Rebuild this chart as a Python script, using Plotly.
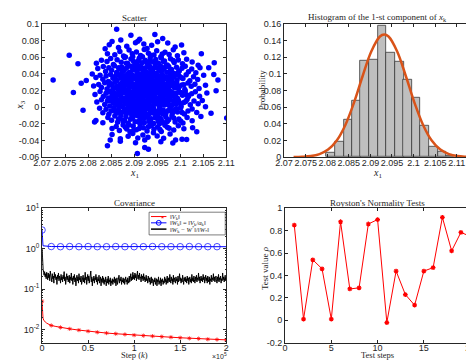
import plotly.graph_objects as go

# ---------------- data ----------------
scatter_points = [
(2.0862,0.0934),
(2.0893,0.0861),(2.0945,0.0869),(2.0962,0.0822),(2.0912,0.0812),(2.0871,0.0805),
(2.0846,0.0749),(2.0852,0.0788),(2.0884,0.0731),(2.0903,0.0772),(2.0921,0.0758),(2.0938,0.0741),(2.0951,0.0785),(2.0973,0.0768),(2.0989,0.0722),(2.0866,0.0716),(2.0928,0.0703),(2.1003,0.0745),(2.0908,0.0791),
(2.0759,0.0622),(2.0837,0.0699),(2.0842,0.0641),(2.0858,0.0628),(2.0869,0.0667),(2.0877,0.0612),(2.0889,0.0684),(2.0896,0.0639),(2.0905,0.0661),(2.0914,0.0618),(2.0922,0.0692),(2.0931,0.0647),(2.0943,0.0626),(2.0949,0.0675),(2.0958,0.0603),(2.0967,0.0658),(2.0976,0.0631),(2.0985,0.0689),(2.0994,0.0617),(2.1008,0.0652),(2.1046,0.0641),(2.0918,0.0605),(2.0881,0.0602),
(2.0778,0.0521),(2.0818,0.0525),(2.0829,0.0561),(2.0841,0.0547),(2.0849,0.0583),(2.0855,0.0512),(2.0863,0.0568),(2.0872,0.0539),(2.0879,0.0594),(2.0886,0.0522),(2.0893,0.0577),(2.0899,0.0548),(2.0906,0.0509),(2.0911,0.0586),(2.0917,0.0533),(2.0924,0.0561),(2.0929,0.0515),(2.0935,0.0592),(2.0941,0.0544),(2.0947,0.0571),(2.0953,0.0527),(2.0959,0.0588),(2.0966,0.0553),(2.0972,0.0506),(2.0979,0.0579),(2.0987,0.0536),(2.0996,0.0564),(2.1005,0.0519),(2.1014,0.0574),(2.1026,0.0541),(2.1039,0.0503),(2.1074,0.0533),(2.0903,0.0531),(2.0933,0.0548),
(2.0821,0.0463),(2.0833,0.0488),(2.0838,0.0427),(2.0845,0.0472),(2.0851,0.0441),(2.0857,0.0496),(2.0862,0.0415),(2.0868,0.0458),(2.0873,0.0482),(2.0877,0.0433),(2.0883,0.0467),(2.0888,0.0409),(2.0892,0.0491),(2.0897,0.0446),(2.0901,0.0474),(2.0906,0.0421),(2.0910,0.0458),(2.0914,0.0493),(2.0919,0.0437),(2.0923,0.0469),(2.0927,0.0412),(2.0931,0.0484),(2.0936,0.0449),(2.0940,0.0427),(2.0944,0.0476),(2.0948,0.0404),(2.0952,0.0462),(2.0957,0.0495),(2.0961,0.0438),(2.0966,0.0471),(2.0971,0.0419),(2.0975,0.0486),(2.0981,0.0452),(2.0986,0.0407),(2.0992,0.0479),(2.0998,0.0434),(2.1004,0.0466),(2.1011,0.0491),(2.1018,0.0425),(2.1025,0.0458),(2.1034,0.0413),(2.1043,0.0472),(2.1062,0.0471),(2.0918,0.0401),(2.0955,0.0443),(2.0899,0.0488),
(2.0724,0.0324),(2.0796,0.0320),(2.0809,0.0398),(2.0817,0.0356),(2.0826,0.0381),(2.0832,0.0335),(2.0839,0.0372),(2.0844,0.0308),(2.0849,0.0391),(2.0854,0.0347),(2.0858,0.0364),(2.0863,0.0319),(2.0867,0.0386),(2.0871,0.0352),(2.0875,0.0304),(2.0879,0.0377),(2.0882,0.0339),(2.0886,0.0395),(2.0889,0.0361),(2.0893,0.0316),(2.0896,0.0383),(2.0899,0.0345),(2.0903,0.0372),(2.0906,0.0327),(2.0909,0.0398),(2.0912,0.0355),(2.0915,0.0311),(2.0919,0.0379),(2.0922,0.0342),(2.0925,0.0366),(2.0928,0.0302),(2.0932,0.0388),(2.0935,0.0333),(2.0938,0.0359),(2.0942,0.0314),(2.0945,0.0392),(2.0949,0.0348),(2.0953,0.0371),(2.0957,0.0325),(2.0961,0.0384),(2.0965,0.0337),(2.0969,0.0362),(2.0974,0.0309),(2.0978,0.0393),(2.0983,0.0351),(2.0988,0.0376),(2.0993,0.0321),(2.0999,0.0368),(2.1006,0.0343),(2.1013,0.0389),(2.1021,0.0317),(2.1029,0.0364),(2.1038,0.0331),(2.1051,0.0382),(2.1073,0.0390),(2.1082,0.0324),(2.0947,0.0306),
(2.0785,0.0286),(2.0812,0.0254),(2.0823,0.0271),(2.0829,0.0236),(2.0836,0.0292),(2.0841,0.0218),(2.0846,0.0263),(2.0850,0.0281),(2.0855,0.0229),(2.0859,0.0297),(2.0863,0.0248),(2.0866,0.0212),(2.0870,0.0275),(2.0873,0.0238),(2.0877,0.0289),(2.0880,0.0256),(2.0883,0.0203),(2.0887,0.0268),(2.0890,0.0231),(2.0893,0.0294),(2.0896,0.0245),(2.0899,0.0278),(2.0902,0.0215),(2.0905,0.0262),(2.0908,0.0287),(2.0911,0.0226),(2.0914,0.0253),(2.0917,0.0299),(2.0920,0.0241),(2.0923,0.0272),(2.0926,0.0208),(2.0929,0.0265),(2.0932,0.0234),(2.0935,0.0283),(2.0938,0.0251),(2.0941,0.0219),(2.0944,0.0276),(2.0947,0.0243),(2.0950,0.0291),(2.0953,0.0227),(2.0956,0.0259),(2.0960,0.0205),(2.0963,0.0284),(2.0967,0.0247),(2.0971,0.0271),(2.0975,0.0222),(2.0979,0.0295),(2.0983,0.0257),(2.0988,0.0233),(2.0993,0.0279),(2.0998,0.0244),(2.1004,0.0266),(2.1010,0.0211),(2.1017,0.0288),(2.1024,0.0249),(2.1032,0.0273),(2.1041,0.0224),(2.1055,0.0261),(2.0919,0.0213),(2.0901,0.0236),(2.0958,0.0292),(2.0934,0.0202),
(2.0768,0.0174),(2.0815,0.0152),(2.0826,0.0186),(2.0833,0.0128),(2.0839,0.0167),(2.0844,0.0109),(2.0848,0.0193),(2.0852,0.0141),(2.0856,0.0176),(2.0860,0.0118),(2.0864,0.0159),(2.0868,0.0198),(2.0871,0.0135),(2.0875,0.0172),(2.0878,0.0104),(2.0881,0.0188),(2.0885,0.0147),(2.0888,0.0126),(2.0891,0.0181),(2.0894,0.0155),(2.0897,0.0113),(2.0900,0.0195),(2.0903,0.0138),(2.0906,0.0169),(2.0909,0.0121),(2.0912,0.0184),(2.0915,0.0146),(2.0918,0.0107),(2.0921,0.0173),(2.0924,0.0132),(2.0927,0.0191),(2.0930,0.0158),(2.0933,0.0115),(2.0936,0.0178),(2.0939,0.0143),(2.0942,0.0196),(2.0945,0.0124),(2.0948,0.0165),(2.0951,0.0101),(2.0954,0.0186),(2.0957,0.0137),(2.0960,0.0162),(2.0963,0.0119),(2.0966,0.0189),(2.0970,0.0149),(2.0973,0.0171),(2.0977,0.0112),(2.0981,0.0183),(2.0985,0.0134),(2.0989,0.0166),(2.0994,0.0106),(2.0999,0.0179),(2.1005,0.0142),(2.1011,0.0194),(2.1018,0.0127),(2.1025,0.0161),(2.1033,0.0185),(2.1042,0.0131),(2.1058,0.0168),(2.1078,0.0197),(2.0913,0.0161),(2.0941,0.0104),(2.0887,0.0199),(2.0962,0.0145),
(2.0819,0.0062),(2.0829,0.0088),(2.0836,0.0031),(2.0842,0.0074),(2.0847,0.0012),(2.0851,0.0096),(2.0855,0.0047),(2.0859,0.0068),(2.0863,0.0023),(2.0867,0.0085),(2.0870,0.0054),(2.0874,0.0008),(2.0877,0.0071),(2.0881,0.0039),(2.0884,0.0093),(2.0887,0.0016),(2.0890,0.0061),(2.0893,0.0082),(2.0896,0.0035),(2.0899,0.0005),(2.0902,0.0077),(2.0905,0.0049),(2.0908,0.0098),(2.0911,0.0021),(2.0914,0.0065),(2.0917,0.0043),(2.0920,0.0089),(2.0923,0.0011),(2.0926,0.0057),(2.0929,0.0079),(2.0932,0.0029),(2.0935,0.0066),(2.0938,0.0094),(2.0941,0.0014),(2.0944,0.0052),(2.0947,0.0083),(2.0950,0.0037),(2.0953,0.0072),(2.0956,0.0003),(2.0959,0.0058),(2.0962,0.0091),(2.0966,0.0026),(2.0970,0.0069),(2.0974,0.0045),(2.0978,0.0087),(2.0982,0.0018),(2.0986,0.0063),(2.0991,0.0034),(2.0996,0.0081),(2.1002,0.0009),(2.1008,0.0056),(2.1015,0.0092),(2.1022,0.0027),(2.1030,0.0073),(2.1039,0.0041),(2.1055,0.0004),(2.1048,0.0078),(2.0928,0.0033),(2.0905,0.0015),
(2.0789,-0.0039),(2.0825,-0.0015),(2.0832,-0.0068),(2.0839,-0.0027),(2.0845,-0.0085),(2.0850,-0.0046),(2.0856,-0.0012),(2.0861,-0.0073),(2.0866,-0.0034),(2.0871,-0.0095),(2.0875,-0.0058),(2.0879,-0.0021),(2.0883,-0.0081),(2.0887,-0.0042),(2.0891,-0.0007),(2.0895,-0.0066),(2.0899,-0.0029),(2.0903,-0.0089),(2.0907,-0.0051),(2.0911,-0.0014),(2.0915,-0.0077),(2.0919,-0.0038),(2.0923,-0.0062),(2.0927,-0.0019),(2.0931,-0.0092),(2.0935,-0.0047),(2.0939,-0.0071),(2.0943,-0.0025),(2.0947,-0.0086),(2.0951,-0.0053),(2.0955,-0.0009),(2.0959,-0.0069),(2.0963,-0.0036),(2.0968,-0.0094),(2.0973,-0.0044),(2.0978,-0.0017),(2.0983,-0.0075),(2.0988,-0.0031),(2.0994,-0.0059),(2.1001,-0.0011),(2.1009,-0.0083),(2.1017,-0.0048),(2.1026,-0.0024),(2.1036,-0.0065),(2.1067,-0.0073),(2.0917,-0.0097),(2.0941,-0.0004),(2.0896,-0.0049),(2.0962,-0.0082),
(2.0814,-0.0178),(2.0817,-0.0162),(2.0832,-0.0189),(2.0843,-0.0124),(2.0851,-0.0157),(2.0858,-0.0108),(2.0864,-0.0183),(2.0870,-0.0136),(2.0876,-0.0169),(2.0882,-0.0115),(2.0887,-0.0194),(2.0892,-0.0147),(2.0897,-0.0128),(2.0902,-0.0176),(2.0907,-0.0103),(2.0912,-0.0159),(2.0917,-0.0132),(2.0922,-0.0187),(2.0927,-0.0118),(2.0932,-0.0164),(2.0937,-0.0141),(2.0942,-0.0196),(2.0947,-0.0112),(2.0952,-0.0171),(2.0957,-0.0138),(2.0963,-0.0185),(2.0969,-0.0121),(2.0975,-0.0153),(2.0982,-0.0106),(2.0989,-0.0179),(2.0997,-0.0144),(2.1006,-0.0191),(2.1015,-0.0126),(2.1026,-0.0163),(2.1101,-0.0131),(2.1045,-0.0112),(2.0924,-0.0101),(2.0955,-0.0199),
(2.0852,-0.0257),(2.0861,-0.0232),(2.0868,-0.0281),(2.0876,-0.0214),(2.0884,-0.0263),(2.0891,-0.0295),(2.0898,-0.0228),(2.0905,-0.0271),(2.0913,-0.0206),(2.0920,-0.0248),(2.0928,-0.0287),(2.0935,-0.0223),(2.0943,-0.0266),(2.0951,-0.0239),(2.0959,-0.0292),(2.0967,-0.0217),(2.0976,-0.0254),(2.0986,-0.0276),(2.0996,-0.0225),(2.1008,-0.0261),(2.1027,-0.0247),(2.1036,-0.0297),(2.0939,-0.0208),(2.0881,-0.0242),
(2.0852,-0.0328),(2.0887,-0.0351),(2.0870,-0.0381),(2.0897,-0.0316),(2.0908,-0.0372),(2.0919,-0.0334),(2.0930,-0.0362),(2.0950,-0.0347),(2.0964,-0.0375),(2.0978,-0.0323),(2.0990,-0.0394),(2.1004,-0.0386),(2.1014,-0.0390),(2.0942,-0.0308),(2.0923,-0.0396),(2.0848,-0.0394),
(2.0842,-0.0463),(2.0870,-0.0409),(2.0923,-0.0486),(2.0903,-0.0428),(2.0958,-0.0417),(2.0984,-0.0432),
(2.0907,-0.0556),(2.0931,-0.0506),
# denser core of the cloud
(2.0874,0.0437),(2.0891,0.0419),(2.0907,0.0452),(2.0925,0.0431),(2.0941,0.0458),(2.0958,0.0426),(2.0979,0.0447),(2.0996,0.0418),(2.0866,0.0472),(2.0933,0.0497),(2.0969,0.0489),(2.0912,0.0475),
(2.0861,0.0378),(2.0878,0.0357),(2.0894,0.0389),(2.0904,0.0341),(2.0917,0.0367),(2.0929,0.0349),(2.0941,0.0381),(2.0952,0.0336),(2.0963,0.0373),(2.0976,0.0346),(2.0991,0.0387),(2.1003,0.0353),(2.0885,0.0322),(2.0921,0.0328),(2.0955,0.0315),(2.0982,0.0331),(2.0872,0.0395),(2.0937,0.0397),
(2.0852,0.0273),(2.0868,0.0251),(2.0881,0.0284),(2.0894,0.0262),(2.0903,0.0226),(2.0913,0.0279),(2.0922,0.0254),(2.0931,0.0288),(2.0939,0.0237),(2.0948,0.0267),(2.0957,0.0241),(2.0965,0.0276),(2.0974,0.0258),(2.0985,0.0285),(2.0996,0.0221),(2.1008,0.0269),(2.0876,0.0218),(2.0911,0.0207),(2.0944,0.0212),(2.0968,0.0228),(2.0859,0.0232),(2.0926,0.0296),
(2.0845,0.0183),(2.0858,0.0162),(2.0869,0.0143),(2.0879,0.0171),(2.0889,0.0138),(2.0898,0.0166),(2.0907,0.0152),(2.0916,0.0189),(2.0925,0.0147),(2.0934,0.0169),(2.0943,0.0131),(2.0952,0.0178),(2.0961,0.0154),(2.0971,0.0187),(2.0979,0.0126),(2.0991,0.0159),(2.1002,0.0173),(2.1014,0.0149),(2.0883,0.0111),(2.0919,0.0117),(2.0947,0.0109),(2.0973,0.0103),(2.0904,0.0194),(2.0937,0.0192),
(2.0849,0.0075),(2.0861,0.0044),(2.0872,0.0081),(2.0882,0.0058),(2.0892,0.0027),(2.0901,0.0064),(2.0910,0.0086),(2.0919,0.0052),(2.0927,0.0019),(2.0936,0.0075),(2.0945,0.0041),(2.0954,0.0088),(2.0964,0.0061),(2.0975,0.0024),(2.0987,0.0079),(2.0999,0.0049),(2.1012,0.0068),(2.0868,0.0013),(2.0913,0.0007),(2.0958,0.0031),
(2.0858,-0.0042),(2.0869,-0.0063),(2.0881,-0.0031),(2.0893,-0.0078),(2.0904,-0.0022),(2.0913,-0.0056),(2.0925,-0.0083),(2.0934,-0.0028),(2.0945,-0.0061),(2.0957,-0.0039),(2.0969,-0.0072),(2.0981,-0.0048),(2.0992,-0.0019),(2.1004,-0.0066),(2.0921,-0.0005),(2.0897,-0.0095),(2.0951,-0.0091),
(2.0866,-0.0142),(2.0879,-0.0161),(2.0895,-0.0118),(2.0909,-0.0173),(2.0921,-0.0137),(2.0934,-0.0185),(2.0946,-0.0129),(2.0959,-0.0157),(2.0972,-0.0174),(2.0986,-0.0131),(2.1001,-0.0166),(2.0915,-0.0109),
(2.0889,-0.0214),(2.0911,-0.0257),(2.0931,-0.0236),(2.0956,-0.0268),(2.0972,-0.0242),(2.0899,-0.0278),
(2.0883,0.0527),(2.0909,0.0552),(2.0927,0.0537),(2.0946,0.0512),(2.0964,0.0546),(2.0985,0.0559),(2.0897,0.0605),(2.0936,0.0621),(2.0961,0.0637),
]
scatter_x = [p[0] for p in scatter_points]
scatter_y = [p[1] for p in scatter_points]

hist_centers = [2.0808, 2.0828, 2.0848, 2.0868, 2.0887, 2.0907, 2.0927, 2.0947,
                2.0967, 2.0986, 2.1006, 2.1026, 2.1046, 2.1066, 2.1085]
hist_probs = [0.005, 0.019, 0.045, 0.068, 0.116, 0.117, 0.158, 0.125,
              0.114, 0.093, 0.071, 0.038, 0.013, 0.007, 0.002]
hist_width = 0.00198

fit_x = [2.0722, 2.0742, 2.0762, 2.0782, 2.0802, 2.0822, 2.0842, 2.0862, 2.0882, 2.0902,
         2.0922, 2.0932, 2.0942, 2.0962, 2.0982, 2.1002, 2.1022, 2.1042, 2.1062, 2.1082,
         2.1102, 2.1122, 2.1132]
fit_y = [0.0001, 0.0004, 0.0012, 0.0036, 0.0090, 0.0199, 0.0386, 0.0654, 0.0973, 0.1267,
         0.1446, 0.1470, 0.1446, 0.1267, 0.0973, 0.0654, 0.0386, 0.0199, 0.0090, 0.0036,
         0.0012, 0.0004, 0.0002]

red_k = [0, 100, 300, 600, 1000, 2000, 3500, 5000, 7500, 10000, 15000, 20000,
         30000, 40000, 50000, 60000, 70000, 80000, 90000, 100000, 110000, 120000,
         130000, 140000, 150000, 160000, 170000, 180000, 190000, 200000]
red_vals = [0.05, 0.033, 0.025, 0.021, 0.019, 0.0165, 0.0152, 0.0143, 0.0133, 0.0125, 0.0118, 0.0112,
            0.0103, 0.0096, 0.0090, 0.0085, 0.0081, 0.0078, 0.0075, 0.0072, 0.0070, 0.0068,
            0.0066, 0.0064, 0.0062, 0.0060, 0.0059, 0.0057, 0.0056, 0.0055]

blue_k = [0, 500, 1000, 10000, 20000, 30000, 40000, 50000, 60000, 70000, 80000, 90000, 100000,
          110000, 120000, 130000, 140000, 150000, 160000, 170000, 180000, 190000, 200000]
blue_vals = [2.9, 1.35, 1.18, 1.13, 1.12, 1.13, 1.12, 1.13, 1.12, 1.12, 1.13, 1.12, 1.12,
             1.12, 1.13, 1.12, 1.12, 1.12, 1.13, 1.12, 1.12, 1.12, 1.12]

black_vals = [
1.05, 0.42, 0.31, 0.26, 0.22, 0.27, 0.2, 0.24, 0.18, 0.26, 0.21, 0.17, 0.25, 0.19, 0.23, 0.16, 0.28, 0.2, 0.22, 0.15,
0.24, 0.18, 0.21, 0.14, 0.26, 0.19, 0.23, 0.17, 0.2, 0.13, 0.22, 0.18, 0.25, 0.16, 0.21, 0.19, 0.14, 0.23, 0.17, 0.2,
0.15, 0.22, 0.18, 0.27, 0.16, 0.2, 0.13, 0.19, 0.24, 0.17, 0.21, 0.15, 0.18, 0.22, 0.14, 0.2, 0.17, 0.25, 0.16, 0.19,
0.13, 0.21, 0.17, 0.23, 0.15, 0.19, 0.12, 0.18, 0.22, 0.16, 0.2, 0.14, 0.24, 0.17, 0.19, 0.15, 0.21, 0.13, 0.18, 0.16,
0.22, 0.15, 0.19, 0.14, 0.26, 0.17, 0.2, 0.13, 0.18, 0.23, 0.16, 0.21, 0.14, 0.19, 0.17, 0.28, 0.15, 0.2, 0.12, 0.18,
0.16, 0.21, 0.14, 0.19, 0.17, 0.23, 0.15, 0.2, 0.13, 0.18, 0.16, 0.22, 0.14, 0.17, 0.2, 0.12, 0.18, 0.15, 0.21, 0.14,
0.19, 0.13, 0.17, 0.15, 0.2, 0.12, 0.16, 0.18, 0.14, 0.21, 0.13, 0.17, 0.15, 0.19, 0.12, 0.16, 0.14, 0.18, 0.13, 0.17,
0.15, 0.2, 0.14, 0.18, 0.12, 0.16, 0.19, 0.13, 0.17, 0.15, 0.22, 0.14, 0.18, 0.16, 0.2, 0.13, 0.17, 0.15, 0.19, 0.14,
0.18, 0.13, 0.16, 0.2, 0.15, 0.17, 0.13, 0.19, 0.16, 0.14, 0.21, 0.15, 0.18, 0.24, 0.16, 0.2, 0.17, 0.26, 0.18, 0.22,
0.17, 0.25, 0.19, 0.23, 0.16, 0.21, 0.28, 0.18, 0.22, 0.17, 0.25, 0.19, 0.2, 0.15, 0.23, 0.18, 0.21, 0.16, 0.24, 0.17,
0.2, 0.15, 0.19, 0.22, 0.16, 0.18, 0.14, 0.21, 0.17, 0.15, 0.19, 0.13, 0.17, 0.2, 0.14, 0.18, 0.16, 0.12, 0.17, 0.15,
0.19, 0.13, 0.16, 0.18, 0.12, 0.17, 0.15, 0.2, 0.13, 0.16, 0.14, 0.19, 0.12, 0.17, 0.15, 0.18, 0.13, 0.16, 0.14, 0.2,
0.15, 0.18, 0.13, 0.17, 0.21, 0.14, 0.16, 0.19, 0.15, 0.23, 0.17, 0.14, 0.2, 0.16, 0.18, 0.13, 0.22, 0.15, 0.19, 0.17,
0.14, 0.2, 0.16, 0.18, 0.13, 0.21, 0.15, 0.17, 0.24, 0.16, 0.19, 0.14, 0.18, 0.15, 0.22, 0.17, 0.13, 0.19, 0.16, 0.2,
0.15, 0.18, 0.14, 0.21, 0.16, 0.19, 0.13, 0.17, 0.2, 0.15, 0.18, 0.14, 0.23, 0.16, 0.19, 0.15, 0.21, 0.17, 0.14, 0.2,
0.16, 0.22, 0.15, 0.19, 0.17, 0.25, 0.16, 0.2, 0.14, 0.18, 0.21, 0.16, 0.19, 0.15, 0.23, 0.17, 0.2, 0.14, 0.18, 0.22,
0.16, 0.19, 0.14, 0.21, 0.17, 0.15, 0.2, 0.13, 0.18, 0.16, 0.22, 0.15, 0.19, 0.17, 0.24, 0.16, 0.2, 0.15, 0.18, 0.21,
0.17, 0.14, 0.2, 0.16, 0.23, 0.15, 0.19, 0.17, 0.21, 0.14, 0.18, 0.16, 0.25, 0.17, 0.2, 0.15, 0.19, 0.22, 0.16, 0.18,
]
black_k = [i * 200000 / (len(black_vals) - 1) for i in range(len(black_vals))]

test_steps = list(range(1, 21))
test_values = [0.85, 0.01, 0.54, 0.46, 0.01, 0.88, 0.28, 0.29, 0.86, 0.90,
               -0.02, 0.44, 0.23, 0.135, 0.44, 0.47, 0.92, 0.62, 0.785, 0.75]

# ---------------- layout helpers ----------------
W, H = 474, 360
def fx(x): return x / W
def fy(y): return 1 - y / H

AX = '#262626'
TICKFONT = dict(family='Liberation Sans, Arial, sans-serif', size=9, color=AX)
SERIF = 'Liberation Serif, Times New Roman, serif'

def axstyle(**kw):
    d = dict(showline=True, linecolor=AX, linewidth=0.8, mirror='ticks', ticks='inside',
             ticklen=3, tickcolor=AX, tickwidth=0.8, showgrid=False, zeroline=False,
             tickfont=TICKFONT, tickangle=0)
    d.update(kw)
    return d

fig = go.Figure()

# Scatter
fig.add_trace(go.Scatter(x=scatter_x, y=scatter_y, mode='markers',
                         marker=dict(color='#0000ff', size=5.5, line=dict(width=0)),
                         xaxis='x', yaxis='y', showlegend=False))
# Histogram
fig.add_trace(go.Bar(x=hist_centers, y=hist_probs, width=hist_width,
                     marker=dict(color='#bfbfbf', line=dict(color='#3a3a3a', width=0.8)),
                     xaxis='x2', yaxis='y2', showlegend=False))
fig.add_trace(go.Scatter(x=fit_x, y=fit_y, mode='lines',
                         line=dict(color='#D95319', width=2.5, shape='spline'),
                         xaxis='x2', yaxis='y2', showlegend=False))
# Covariance
fig.add_trace(go.Scatter(x=red_k, y=red_vals, mode='lines+markers',
                         line=dict(color='#ff0000', width=1),
                         marker=dict(symbol='asterisk-open', color='#ff0000',
                                     size=[3.5 if (k % 10000 == 0) else 0 for k in red_k],
                                     line=dict(width=1, color='#ff0000')),
                         xaxis='x3', yaxis='y3', showlegend=False))
fig.add_trace(go.Scatter(x=blue_k, y=blue_vals, mode='lines+markers',
                         line=dict(color='#0000ff', width=1),
                         marker=dict(symbol='circle-open', color='#0000ff',
                                     size=[6.5 if (k % 10000 == 0 and k < 200000) else 0 for k in blue_k],
                                     line=dict(width=1, color='#0000ff')),
                         xaxis='x3', yaxis='y3', showlegend=False))
fig.add_trace(go.Scatter(x=black_k, y=black_vals, mode='lines',
                         line=dict(color='#000000', width=1),
                         xaxis='x3', yaxis='y3', showlegend=False))
# Royston
fig.add_trace(go.Scatter(x=test_steps, y=test_values, mode='lines+markers',
                         line=dict(color='#ff0000', width=1),
                         marker=dict(symbol='asterisk-open', size=4, color='#ff0000',
                                     line=dict(width=1.2, color='#ff0000')),
                         xaxis='x4', yaxis='y4', showlegend=False))

x_ticks = [2.07, 2.075, 2.08, 2.085, 2.09, 2.095, 2.1, 2.105, 2.11]
x_ticktext = ['2.07', '2.075', '2.08', '2.085', '2.09', '2.095', '2.1', '2.105', '2.11']
sc_yticks = [-0.06, -0.04, -0.02, 0, 0.02, 0.04, 0.06, 0.08, 0.1]
sc_ytext = ['-0.06', '-0.04', '-0.02', '0', '0.02', '0.04', '0.06', '0.08', '0.1']
h_yticks = [0, 0.02, 0.04, 0.06, 0.08, 0.1, 0.12, 0.14, 0.16]
h_ytext = ['0', '0.02', '0.04', '0.06', '0.08', '0.1', '0.12', '0.14', '0.16']
minor_log = [m * 10 ** e for e in (-3, -2, -1, 0) for m in range(2, 10)]

XSO = -3  # pull x tick labels closer to the axis

fig.update_layout(
    width=W, height=H, margin=dict(l=0, r=0, t=0, b=0),
    paper_bgcolor='white', plot_bgcolor='white', showlegend=False, bargap=0,
    xaxis=axstyle(domain=[fx(26), fx(217)], range=[2.07, 2.11], tickvals=x_ticks,
                  ticktext=x_ticktext, anchor='y', ticklabelstandoff=XSO),
    yaxis=axstyle(domain=[fy(147), fy(9)], range=[-0.06, 0.1], tickvals=sc_yticks,
                  ticktext=sc_ytext, anchor='x'),
    xaxis2=axstyle(domain=[fx(277), fx(470)], range=[2.07, 2.1131], tickvals=x_ticks,
                   ticktext=x_ticktext, anchor='y2', ticklabelstandoff=XSO),
    yaxis2=axstyle(domain=[fy(147), fy(9)], range=[0, 0.16], tickvals=h_yticks,
                   ticktext=h_ytext, anchor='x2'),
    xaxis3=axstyle(domain=[fx(26), fx(217)], range=[0, 200000],
                   tickvals=[0, 50000, 100000, 150000, 200000],
                   ticktext=['0', '0.5', '1', '1.5', '2'], anchor='y3', ticklabelstandoff=XSO),
    yaxis3=axstyle(domain=[fy(339), fy(200)], type='log', range=[-2.33, 1.0],
                   tickvals=[0.01, 0.1, 1, 10],
                   ticktext=['10<sup>-2</sup>', '10<sup>-1</sup>', '10<sup>0</sup>', '10<sup>1</sup>'],
                   minor=dict(tickmode='array', tickvals=minor_log, ticks='inside',
                              ticklen=1.5, tickcolor=AX, showgrid=False),
                   anchor='x3'),
    xaxis4=axstyle(domain=[fx(278), fx(470)], range=[0, 20], tickvals=[0, 5, 10, 15, 20],
                   anchor='y4', ticklabelstandoff=XSO),
    yaxis4=axstyle(domain=[fy(339), fy(200)], range=[-0.2, 1],
                   tickvals=[-0.2, 0, 0.2, 0.4, 0.6, 0.8, 1],
                   ticktext=['-0.2', '0', '0.2', '0.4', '0.6', '0.8', '1'], anchor='x4'),
)

def label(text, x, y, size=9, angle=0, xanchor='center', family=SERIF):
    fig.add_annotation(text=text, x=fx(x), y=fy(y), xref='paper', yref='paper',
                       showarrow=False, textangle=angle, xanchor=xanchor, yanchor='middle',
                       font=dict(family=family, size=size, color=AX))

# titles
label('Scatter', 121.5, 3, size=9)
label('Histogram of the 1-st component of <i>x</i><sub>k</sub>', 373.5, 3, size=9)
label('Covariance', 121.5, 194, size=9)
label("Royston's Normality Tests", 374, 194, size=9)
# axis labels
label('<i>x</i><sub>1</sub>', 121.5, 164, size=10)
label('<i>x</i><sub>1</sub>', 373.5, 164, size=10)
label('<i>x</i><sub>3</sub>', 4, 93, size=10, angle=-90)
label('Probability', 255, 78, size=9, angle=-90)
label('Step (<i>k</i>)', 121.5, 352, size=8.5)
label('Test steps', 374, 352, size=8.5)
label('Test value <i>ρ</i>', 257, 262, size=9, angle=-90)
label('×10<sup>5</sup>', 220, 353, size=7, xanchor='right',
      family='Liberation Sans, Arial, sans-serif')

# manual legend (covariance)
lx0, lx1, ly0, ly1 = 137, 216, 204, 227.5
fig.add_shape(type='rect', xref='paper', yref='paper', x0=fx(lx0), x1=fx(lx1), y0=fy(ly1), y1=fy(ly0),
              line=dict(color=AX, width=0.6), fillcolor='white', layer='above')
entries = [('‖<i>V</i><sub>k</sub>‖', '#ff0000', 208.5, 'star'),
           ('‖<i>W</i><sub>k</sub>‖ = ‖<i>V</i><sub>k</sub>/<i>α</i><sub>k</sub>‖', '#0000ff', 215, 'circle'),
           ('‖<i>W</i><sub>k</sub> − <i>W</i><sup>*</sup>‖/‖<i>W</i><sub>*</sub>‖', '#000000', 221.5, None)]
for text, col, yy, mk in entries:
    fig.add_shape(type='line', xref='paper', yref='paper', x0=fx(139), x1=fx(155), y0=fy(yy), y1=fy(yy),
                  line=dict(color=col, width=1.5 if mk is None else 1), layer='above')
    if mk == 'circle':
        fig.add_shape(type='circle', xref='paper', yref='paper', x0=fx(144.5), x1=fx(149.5),
                      y0=fy(yy + 2.5), y1=fy(yy - 2.5), line=dict(color=col, width=1), layer='above')
    elif mk == 'star':
        fig.add_annotation(text='*', x=fx(147), y=fy(yy + 1.5), xref='paper', yref='paper',
                           showarrow=False, yanchor='middle',
                           font=dict(size=8, color=col, family='Liberation Sans'))
    fig.add_annotation(text=text, x=fx(157), y=fy(yy), xref='paper', yref='paper',
                       showarrow=False, xanchor='left', yanchor='middle',
                       font=dict(family=SERIF, size=6.5, color=AX))

fig.write_html('out.html')
